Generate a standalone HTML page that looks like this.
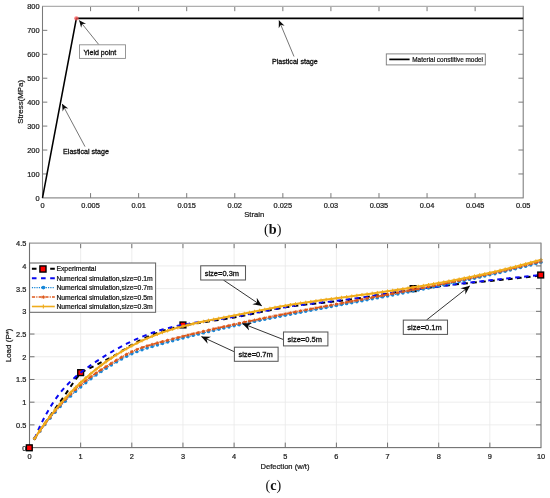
<!DOCTYPE html>
<html><head><meta charset="utf-8"><title>Figure</title>
<style>
html,body{margin:0;padding:0;background:#fff;}
svg{display:block;}
text{font-family:"Liberation Sans",Arial,sans-serif;fill:#1a1a1a;}
.tk text{stroke:#1a1a1a;stroke-width:0.22px;}
.an text{stroke:#111;stroke-width:0.3px;fill:#111;}
.cap{font-family:"Liberation Serif","DejaVu Serif",serif;fill:#111;}
</style></head><body>
<svg width="550" height="498" viewBox="0 0 550 498">
<defs>
<marker id="ah" viewBox="0 0 10 10" refX="9.6" refY="5" markerWidth="9.5" markerHeight="9" orient="auto" markerUnits="userSpaceOnUse">
<path d="M0,0.6 L10,5 L0,9.4 L3.4,5 Z" fill="#0a0a0a"/></marker>
<marker id="ah2" viewBox="0 0 10 10" refX="9.6" refY="5" markerWidth="7.6" markerHeight="7.2" orient="auto" markerUnits="userSpaceOnUse">
<path d="M0,0.6 L10,5 L0,9.4 L3.4,5 Z" fill="#0a0a0a"/></marker>
</defs>
<rect width="550" height="498" fill="#fff"/>

<g id="top">
<rect x="42.5" y="6.4" width="480.70000000000005" height="191.5" fill="none" stroke="#7a7a7a" stroke-width="1.05"/>
<path d="M90.57,197.9v-4.8M90.57,6.4v4.8M138.64,197.9v-4.8M138.64,6.4v4.8M186.71,197.9v-4.8M186.71,6.4v4.8M234.78,197.9v-4.8M234.78,6.4v4.8M282.85,197.9v-4.8M282.85,6.4v4.8M330.92,197.9v-4.8M330.92,6.4v4.8M378.99,197.9v-4.8M378.99,6.4v4.8M427.06,197.9v-4.8M427.06,6.4v4.8M475.13,197.9v-4.8M475.13,6.4v4.8M42.5,173.96h4.8M523.2,173.96h-4.8M42.5,150.03h4.8M523.2,150.03h-4.8M42.5,126.09h4.8M523.2,126.09h-4.8M42.5,102.15h4.8M523.2,102.15h-4.8M42.5,78.21h4.8M523.2,78.21h-4.8M42.5,54.28h4.8M523.2,54.28h-4.8M42.5,30.34h4.8M523.2,30.34h-4.8" stroke="#7a7a7a" stroke-width="1" fill="none"/>
<line x1="43.1" y1="6.4" x2="522.6" y2="6.4" stroke="#fff" stroke-width="1.4"/><line x1="42.5" y1="6.4" x2="523.2" y2="6.4" stroke="#a6a6a6" stroke-width="1"/>
<g class="tk">
<text x="42.50" y="208.30" font-size="7.4" text-anchor="middle">0</text>
<text x="90.57" y="208.30" font-size="7.4" text-anchor="middle">0.005</text>
<text x="138.64" y="208.30" font-size="7.4" text-anchor="middle">0.01</text>
<text x="186.71" y="208.30" font-size="7.4" text-anchor="middle">0.015</text>
<text x="234.78" y="208.30" font-size="7.4" text-anchor="middle">0.02</text>
<text x="282.85" y="208.30" font-size="7.4" text-anchor="middle">0.025</text>
<text x="330.92" y="208.30" font-size="7.4" text-anchor="middle">0.03</text>
<text x="378.99" y="208.30" font-size="7.4" text-anchor="middle">0.035</text>
<text x="427.06" y="208.30" font-size="7.4" text-anchor="middle">0.04</text>
<text x="475.13" y="208.30" font-size="7.4" text-anchor="middle">0.045</text>
<text x="523.20" y="208.30" font-size="7.4" text-anchor="middle">0.05</text>
<text x="39.50" y="200.80" font-size="7.4" text-anchor="end">0</text>
<text x="39.50" y="176.86" font-size="7.4" text-anchor="end">100</text>
<text x="39.50" y="152.93" font-size="7.4" text-anchor="end">200</text>
<text x="39.50" y="128.99" font-size="7.4" text-anchor="end">300</text>
<text x="39.50" y="105.05" font-size="7.4" text-anchor="end">400</text>
<text x="39.50" y="81.11" font-size="7.4" text-anchor="end">500</text>
<text x="39.50" y="57.18" font-size="7.4" text-anchor="end">600</text>
<text x="39.50" y="33.24" font-size="7.4" text-anchor="end">700</text>
<text x="39.50" y="9.30" font-size="7.4" text-anchor="end">800</text>
<text x="254.2" y="217.2" font-size="7.7" text-anchor="middle">Strain</text>
<text transform="translate(22.6,101.8) rotate(-90)" font-size="7.9" text-anchor="middle">Stress(MPa)</text>
</g>
<path d="M42.5,197.9 L76.4,18.37 L523.2,18.37" fill="none" stroke="#000" stroke-width="1.55" stroke-linejoin="miter"/>
<circle cx="76.4" cy="18.37" r="2.2" fill="#ff5a5a" opacity="0.75"/>
<g class="an">
<line x1="98.8" y1="44.6" x2="79.3" y2="20.4" stroke="#2a2a2a" stroke-width="0.65" marker-end="url(#ah2)"/>
<rect x="79.5" y="44.8" width="46" height="13.6" fill="#fff" stroke="#8c8c8c" stroke-width="0.9"/>
<text x="83.4" y="54.6" font-size="7.1">Yield point</text>
<line x1="85" y1="146.6" x2="62.2" y2="104" stroke="#2a2a2a" stroke-width="0.65" marker-end="url(#ah2)"/>
<text x="63.1" y="154.4" font-size="7.1">Elastical stage</text>
<line x1="294" y1="56.5" x2="279" y2="20.6" stroke="#2a2a2a" stroke-width="0.65" marker-end="url(#ah2)"/>
<text x="272" y="64.3" font-size="7.1">Plastical stage</text>
<rect x="386.3" y="53.9" width="99" height="11" fill="#fff" stroke="#7a7a7a" stroke-width="0.9"/>
<line x1="389.3" y1="59.4" x2="409.6" y2="59.4" stroke="#000" stroke-width="1.7"/>
<text x="412.2" y="61.9" font-size="6.45" style="stroke-width:0.2px">Material constitive model</text>
</g>
</g>
<text class="cap" x="264.0" y="234.2" font-size="14.2">(<tspan font-weight="bold">b</tspan>)</text>
<g id="bot">
<path d="M80.65,243.2V447.6M131.80,243.2V447.6M182.95,243.2V447.6M234.10,243.2V447.6M285.25,243.2V447.6M336.40,243.2V447.6M387.55,243.2V447.6M438.70,243.2V447.6M489.85,243.2V447.6M29.5,424.89H541.0M29.5,402.18H541.0M29.5,379.47H541.0M29.5,356.76H541.0M29.5,334.04H541.0M29.5,311.33H541.0M29.5,288.62H541.0M29.5,265.91H541.0" stroke="#e8e8e8" stroke-width="0.8" fill="none"/>
<path d="M34.62,438.52 L39.73,430.67 L44.84,423.20 L49.96,415.99 L55.08,408.89 L60.19,401.77 L65.31,394.50 L70.42,386.94 L75.53,379.32 L80.65,373.20 L85.77,369.81 L90.88,367.62 L96.00,365.10 L101.11,362.44 L106.22,359.88 L111.34,357.23 L116.45,354.29 L121.57,351.15 L126.69,347.95 L131.80,344.84 L136.92,341.96 L142.03,339.31 L147.14,336.91 L152.26,334.72 L157.38,332.76 L162.49,331.00 L167.61,329.43 L172.72,328.04 L177.83,326.79 L182.95,325.68 L188.06,324.68 L193.18,323.77 L198.29,322.94 L203.41,322.16 L208.52,321.41 L213.64,320.68 L218.75,319.95 L223.87,319.19 L228.99,318.38 L234.10,317.52 L239.21,316.57 L244.33,315.56 L249.44,314.51 L254.56,313.42 L259.68,312.32 L264.79,311.23 L269.90,310.17 L275.02,309.14 L280.13,308.18 L285.25,307.29 L290.37,306.49 L295.48,305.77 L300.60,305.12 L305.71,304.53 L310.83,303.97 L315.94,303.44 L321.06,302.92 L326.17,302.40 L331.29,301.86 L336.40,301.29 L341.51,300.68 L346.63,300.01 L351.75,299.30 L356.86,298.54 L361.98,297.76 L367.09,296.95 L372.21,296.13 L377.32,295.30 L382.44,294.46 L387.55,293.64 L392.66,292.83 L397.78,292.04 L402.89,291.27 L408.01,290.51 L413.12,289.78 L418.24,289.06 L423.36,288.36 L428.47,287.69 L433.59,287.03 L438.70,286.40 L443.81,285.80 L448.93,285.21 L454.05,284.64 L459.16,284.09 L464.27,283.55 L469.39,283.02 L474.50,282.50 L479.62,281.99 L484.74,281.48 L489.85,280.97 L494.96,280.46 L500.08,279.95 L505.20,279.43 L510.31,278.90 L515.42,278.37 L520.54,277.82 L525.65,277.25 L530.77,276.67 L535.88,276.07 L541.00,275.44" fill="none" stroke="#000" stroke-width="2" stroke-dasharray="4.6 4.4"/>
<rect x="77.75" y="369.75" width="5.8" height="5.8" fill="#f00" stroke="#000" stroke-width="1.4"/>
<rect x="180.05" y="322.06" width="5.8" height="5.8" fill="#f00" stroke="#000" stroke-width="1.4"/>
<rect x="410.23" y="285.72" width="5.8" height="5.8" fill="#f00" stroke="#000" stroke-width="1.4"/>
<path d="M34.62,438.52 L39.73,426.68 L44.84,416.46 L49.96,407.49 L55.08,399.63 L60.19,392.75 L65.31,386.74 L70.42,381.46 L75.53,376.79 L80.65,372.60 L85.77,368.77 L90.88,365.16 L96.00,361.70 L101.11,358.36 L106.22,355.16 L111.34,352.09 L116.45,349.16 L121.57,346.37 L126.69,343.73 L131.80,341.23 L136.92,338.89 L142.03,336.71 L147.14,334.68 L152.26,332.81 L157.38,331.11 L162.49,329.57 L167.61,328.19 L172.72,326.94 L177.83,325.81 L182.95,324.79 L188.06,323.86 L193.18,323.00 L198.29,322.20 L203.41,321.44 L208.52,320.70 L213.64,319.98 L218.75,319.25 L223.87,318.50 L228.99,317.71 L234.10,316.87 L239.21,315.97 L244.33,315.01 L249.44,314.02 L254.56,312.99 L259.68,311.96 L264.79,310.93 L269.90,309.92 L275.02,308.95 L280.13,308.02 L285.25,307.15 L290.37,306.36 L295.48,305.63 L300.60,304.96 L305.71,304.34 L310.83,303.74 L315.94,303.17 L321.06,302.61 L326.17,302.05 L331.29,301.48 L336.40,300.89 L341.51,300.27 L346.63,299.61 L351.75,298.91 L356.86,298.19 L361.98,297.44 L367.09,296.67 L372.21,295.89 L377.32,295.11 L382.44,294.32 L387.55,293.55 L392.66,292.78 L397.78,292.03 L402.89,291.29 L408.01,290.56 L413.12,289.84 L418.24,289.13 L423.36,288.44 L428.47,287.75 L433.59,287.08 L438.70,286.42 L443.81,285.76 L448.93,285.12 L454.05,284.49 L459.16,283.86 L464.27,283.25 L469.39,282.64 L474.50,282.05 L479.62,281.46 L484.74,280.88 L489.85,280.31 L494.96,279.75 L500.08,279.20 L505.20,278.65 L510.31,278.11 L515.42,277.58 L520.54,277.06 L525.65,276.54 L530.77,276.03 L535.88,275.53 L541.00,275.03" fill="none" stroke="#0808f0" stroke-width="2" stroke-dasharray="4.6 4.4"/>
<path d="M34.62,438.52 L39.73,431.36 L44.84,424.59 L49.96,418.21 L55.08,412.19 L60.19,406.52 L65.31,401.18 L70.42,396.16 L75.53,391.42 L80.65,386.96 L85.77,382.77 L90.88,378.81 L96.00,375.08 L101.11,371.54 L106.22,368.18 L111.34,364.98 L116.45,361.90 L121.57,358.98 L126.69,356.27 L131.80,353.82 L136.92,351.67 L142.03,349.76 L147.14,348.05 L152.26,346.48 L157.38,344.99 L162.49,343.54 L167.61,342.12 L172.72,340.73 L177.83,339.36 L182.95,338.01 L188.06,336.70 L193.18,335.40 L198.29,334.13 L203.41,332.88 L208.52,331.65 L213.64,330.44 L218.75,329.25 L223.87,328.08 L228.99,326.93 L234.10,325.80 L239.21,324.68 L244.33,323.58 L249.44,322.49 L254.56,321.42 L259.68,320.36 L264.79,319.32 L269.90,318.28 L275.02,317.26 L280.13,316.24 L285.25,315.24 L290.37,314.24 L295.48,313.26 L300.60,312.28 L305.71,311.30 L310.83,310.33 L315.94,309.37 L321.06,308.41 L326.17,307.45 L331.29,306.50 L336.40,305.54 L341.51,304.59 L346.63,303.64 L351.75,302.68 L356.86,301.73 L361.98,300.77 L367.09,299.81 L372.21,298.85 L377.32,297.89 L382.44,296.92 L387.55,295.95 L392.66,294.97 L397.78,293.99 L402.89,293.00 L408.01,292.01 L413.12,291.01 L418.24,290.00 L423.36,288.99 L428.47,287.96 L433.59,286.93 L438.70,285.89 L443.81,284.84 L448.93,283.78 L454.05,282.70 L459.16,281.62 L464.27,280.53 L469.39,279.42 L474.50,278.30 L479.62,277.16 L484.74,276.02 L489.85,274.85 L494.96,273.68 L500.08,272.48 L505.20,271.28 L510.31,270.05 L515.42,268.81 L520.54,267.55 L525.65,266.27 L530.77,264.98 L535.88,263.66 L541.00,262.33" fill="none" stroke="#1787d8" stroke-width="1.1" stroke-dasharray="1 1.2"/>
<g fill="#1787d8"><circle cx="34.62" cy="438.52" r="1.7"/><circle cx="39.73" cy="431.36" r="1.7"/><circle cx="44.84" cy="424.59" r="1.7"/><circle cx="49.96" cy="418.21" r="1.7"/><circle cx="55.08" cy="412.19" r="1.7"/><circle cx="60.19" cy="406.52" r="1.7"/><circle cx="65.31" cy="401.18" r="1.7"/><circle cx="70.42" cy="396.16" r="1.7"/><circle cx="75.53" cy="391.42" r="1.7"/><circle cx="80.65" cy="386.96" r="1.7"/><circle cx="85.77" cy="382.77" r="1.7"/><circle cx="90.88" cy="378.81" r="1.7"/><circle cx="96.00" cy="375.08" r="1.7"/><circle cx="101.11" cy="371.54" r="1.7"/><circle cx="106.22" cy="368.18" r="1.7"/><circle cx="111.34" cy="364.98" r="1.7"/><circle cx="116.45" cy="361.90" r="1.7"/><circle cx="121.57" cy="358.98" r="1.7"/><circle cx="126.69" cy="356.27" r="1.7"/><circle cx="131.80" cy="353.82" r="1.7"/><circle cx="136.92" cy="351.67" r="1.7"/><circle cx="142.03" cy="349.76" r="1.7"/><circle cx="147.14" cy="348.05" r="1.7"/><circle cx="152.26" cy="346.48" r="1.7"/><circle cx="157.38" cy="344.99" r="1.7"/><circle cx="162.49" cy="343.54" r="1.7"/><circle cx="167.61" cy="342.12" r="1.7"/><circle cx="172.72" cy="340.73" r="1.7"/><circle cx="177.83" cy="339.36" r="1.7"/><circle cx="182.95" cy="338.01" r="1.7"/><circle cx="188.06" cy="336.70" r="1.7"/><circle cx="193.18" cy="335.40" r="1.7"/><circle cx="198.29" cy="334.13" r="1.7"/><circle cx="203.41" cy="332.88" r="1.7"/><circle cx="208.52" cy="331.65" r="1.7"/><circle cx="213.64" cy="330.44" r="1.7"/><circle cx="218.75" cy="329.25" r="1.7"/><circle cx="223.87" cy="328.08" r="1.7"/><circle cx="228.99" cy="326.93" r="1.7"/><circle cx="234.10" cy="325.80" r="1.7"/><circle cx="239.21" cy="324.68" r="1.7"/><circle cx="244.33" cy="323.58" r="1.7"/><circle cx="249.44" cy="322.49" r="1.7"/><circle cx="254.56" cy="321.42" r="1.7"/><circle cx="259.68" cy="320.36" r="1.7"/><circle cx="264.79" cy="319.32" r="1.7"/><circle cx="269.90" cy="318.28" r="1.7"/><circle cx="275.02" cy="317.26" r="1.7"/><circle cx="280.13" cy="316.24" r="1.7"/><circle cx="285.25" cy="315.24" r="1.7"/><circle cx="290.37" cy="314.24" r="1.7"/><circle cx="295.48" cy="313.26" r="1.7"/><circle cx="300.60" cy="312.28" r="1.7"/><circle cx="305.71" cy="311.30" r="1.7"/><circle cx="310.83" cy="310.33" r="1.7"/><circle cx="315.94" cy="309.37" r="1.7"/><circle cx="321.06" cy="308.41" r="1.7"/><circle cx="326.17" cy="307.45" r="1.7"/><circle cx="331.29" cy="306.50" r="1.7"/><circle cx="336.40" cy="305.54" r="1.7"/><circle cx="341.51" cy="304.59" r="1.7"/><circle cx="346.63" cy="303.64" r="1.7"/><circle cx="351.75" cy="302.68" r="1.7"/><circle cx="356.86" cy="301.73" r="1.7"/><circle cx="361.98" cy="300.77" r="1.7"/><circle cx="367.09" cy="299.81" r="1.7"/><circle cx="372.21" cy="298.85" r="1.7"/><circle cx="377.32" cy="297.89" r="1.7"/><circle cx="382.44" cy="296.92" r="1.7"/><circle cx="387.55" cy="295.95" r="1.7"/><circle cx="392.66" cy="294.97" r="1.7"/><circle cx="397.78" cy="293.99" r="1.7"/><circle cx="402.89" cy="293.00" r="1.7"/><circle cx="408.01" cy="292.01" r="1.7"/><circle cx="413.12" cy="291.01" r="1.7"/><circle cx="418.24" cy="290.00" r="1.7"/><circle cx="423.36" cy="288.99" r="1.7"/><circle cx="428.47" cy="287.96" r="1.7"/><circle cx="433.59" cy="286.93" r="1.7"/><circle cx="438.70" cy="285.89" r="1.7"/><circle cx="443.81" cy="284.84" r="1.7"/><circle cx="448.93" cy="283.78" r="1.7"/><circle cx="454.05" cy="282.70" r="1.7"/><circle cx="459.16" cy="281.62" r="1.7"/><circle cx="464.27" cy="280.53" r="1.7"/><circle cx="469.39" cy="279.42" r="1.7"/><circle cx="474.50" cy="278.30" r="1.7"/><circle cx="479.62" cy="277.16" r="1.7"/><circle cx="484.74" cy="276.02" r="1.7"/><circle cx="489.85" cy="274.85" r="1.7"/><circle cx="494.96" cy="273.68" r="1.7"/><circle cx="500.08" cy="272.48" r="1.7"/><circle cx="505.20" cy="271.28" r="1.7"/><circle cx="510.31" cy="270.05" r="1.7"/><circle cx="515.42" cy="268.81" r="1.7"/><circle cx="520.54" cy="267.55" r="1.7"/><circle cx="525.65" cy="266.27" r="1.7"/><circle cx="530.77" cy="264.98" r="1.7"/><circle cx="535.88" cy="263.66" r="1.7"/><circle cx="541.00" cy="262.33" r="1.7"/></g>
<path d="M34.62,438.52 L39.73,431.08 L44.84,424.03 L49.96,417.35 L55.08,411.04 L60.19,405.10 L65.31,399.51 L70.42,394.27 L75.53,389.38 L80.65,384.82 L85.77,380.60 L90.88,376.70 L96.00,373.10 L101.11,369.72 L106.22,366.50 L111.34,363.35 L116.45,360.22 L121.57,357.17 L126.69,354.30 L131.80,351.71 L136.92,349.49 L142.03,347.58 L147.14,345.90 L152.26,344.40 L157.38,342.99 L162.49,341.62 L167.61,340.27 L172.72,338.94 L177.83,337.63 L182.95,336.34 L188.06,335.07 L193.18,333.82 L198.29,332.59 L203.41,331.37 L208.52,330.18 L213.64,329.00 L218.75,327.83 L223.87,326.68 L228.99,325.55 L234.10,324.43 L239.21,323.32 L244.33,322.23 L249.44,321.15 L254.56,320.08 L259.68,319.02 L264.79,317.98 L269.90,316.94 L275.02,315.91 L280.13,314.90 L285.25,313.89 L290.37,312.89 L295.48,311.90 L300.60,310.91 L305.71,309.93 L310.83,308.96 L315.94,307.99 L321.06,307.02 L326.17,306.06 L331.29,305.10 L336.40,304.15 L341.51,303.20 L346.63,302.25 L351.75,301.30 L356.86,300.35 L361.98,299.40 L367.09,298.45 L372.21,297.49 L377.32,296.54 L382.44,295.58 L387.55,294.62 L392.66,293.66 L397.78,292.69 L402.89,291.72 L408.01,290.74 L413.12,289.75 L418.24,288.76 L423.36,287.76 L428.47,286.75 L433.59,285.73 L438.70,284.70 L443.81,283.66 L448.93,282.61 L454.05,281.55 L459.16,280.48 L464.27,279.40 L469.39,278.30 L474.50,277.19 L479.62,276.06 L484.74,274.92 L489.85,273.76 L494.96,272.59 L500.08,271.40 L505.20,270.19 L510.31,268.96 L515.42,267.72 L520.54,266.45 L525.65,265.17 L530.77,263.86 L535.88,262.53 L541.00,261.18" fill="none" stroke="#dd571a" stroke-width="1.8" stroke-dasharray="3.4 0.9 1 0.9"/>
<path d="M33.02,438.52h3.20M34.62,436.92v3.20M33.48,437.38l2.26,2.26M33.48,439.65l2.26,-2.26M38.13,431.08h3.20M39.73,429.48v3.20M38.60,429.95l2.26,2.26M38.60,432.21l2.26,-2.26M43.24,424.03h3.20M44.84,422.43v3.20M43.71,422.89l2.26,2.26M43.71,425.16l2.26,-2.26M48.36,417.35h3.20M49.96,415.75v3.20M48.83,416.22l2.26,2.26M48.83,418.48l2.26,-2.26M53.48,411.04h3.20M55.08,409.44v3.20M53.94,409.91l2.26,2.26M53.94,412.17l2.26,-2.26M58.59,405.10h3.20M60.19,403.50v3.20M59.06,403.96l2.26,2.26M59.06,406.23l2.26,-2.26M63.71,399.51h3.20M65.31,397.91v3.20M64.17,398.38l2.26,2.26M64.17,400.64l2.26,-2.26M68.82,394.27h3.20M70.42,392.67v3.20M69.29,393.14l2.26,2.26M69.29,395.40l2.26,-2.26M73.94,389.38h3.20M75.53,387.78v3.20M74.40,388.25l2.26,2.26M74.40,390.51l2.26,-2.26M79.05,384.82h3.20M80.65,383.22v3.20M79.52,383.69l2.26,2.26M79.52,385.95l2.26,-2.26M84.17,380.60h3.20M85.77,379.00v3.20M84.63,379.47l2.26,2.26M84.63,381.73l2.26,-2.26M89.28,376.70h3.20M90.88,375.10v3.20M89.75,375.57l2.26,2.26M89.75,377.83l2.26,-2.26M94.40,373.10h3.20M96.00,371.50v3.20M94.86,371.97l2.26,2.26M94.86,374.23l2.26,-2.26M99.51,369.72h3.20M101.11,368.12v3.20M99.98,368.59l2.26,2.26M99.98,370.85l2.26,-2.26M104.62,366.50h3.20M106.22,364.90v3.20M105.09,365.37l2.26,2.26M105.09,367.63l2.26,-2.26M109.74,363.35h3.20M111.34,361.75v3.20M110.21,362.22l2.26,2.26M110.21,364.48l2.26,-2.26M114.86,360.22h3.20M116.45,358.62v3.20M115.32,359.09l2.26,2.26M115.32,361.35l2.26,-2.26M119.97,357.17h3.20M121.57,355.57v3.20M120.44,356.03l2.26,2.26M120.44,358.30l2.26,-2.26M125.09,354.30h3.20M126.69,352.70v3.20M125.55,353.17l2.26,2.26M125.55,355.43l2.26,-2.26M130.20,351.71h3.20M131.80,350.11v3.20M130.67,350.58l2.26,2.26M130.67,352.84l2.26,-2.26M135.32,349.49h3.20M136.92,347.89v3.20M135.78,348.36l2.26,2.26M135.78,350.62l2.26,-2.26M140.43,347.58h3.20M142.03,345.98v3.20M140.90,346.44l2.26,2.26M140.90,348.71l2.26,-2.26M145.54,345.90h3.20M147.14,344.30v3.20M146.01,344.77l2.26,2.26M146.01,347.04l2.26,-2.26M150.66,344.40h3.20M152.26,342.80v3.20M151.13,343.27l2.26,2.26M151.13,345.53l2.26,-2.26M155.78,342.99h3.20M157.38,341.39v3.20M156.24,341.86l2.26,2.26M156.24,344.13l2.26,-2.26M160.89,341.62h3.20M162.49,340.02v3.20M161.36,340.49l2.26,2.26M161.36,342.75l2.26,-2.26M166.01,340.27h3.20M167.61,338.67v3.20M166.47,339.14l2.26,2.26M166.47,341.40l2.26,-2.26M171.12,338.94h3.20M172.72,337.34v3.20M171.59,337.81l2.26,2.26M171.59,340.07l2.26,-2.26M176.23,337.63h3.20M177.83,336.03v3.20M176.70,336.50l2.26,2.26M176.70,338.76l2.26,-2.26M181.35,336.34h3.20M182.95,334.74v3.20M181.82,335.21l2.26,2.26M181.82,337.47l2.26,-2.26M186.47,335.07h3.20M188.06,333.47v3.20M186.93,333.94l2.26,2.26M186.93,336.20l2.26,-2.26M191.58,333.82h3.20M193.18,332.22v3.20M192.05,332.69l2.26,2.26M192.05,334.95l2.26,-2.26M196.69,332.59h3.20M198.29,330.99v3.20M197.16,331.46l2.26,2.26M197.16,333.72l2.26,-2.26M201.81,331.37h3.20M203.41,329.77v3.20M202.28,330.24l2.26,2.26M202.28,332.50l2.26,-2.26M206.92,330.18h3.20M208.52,328.58v3.20M207.39,329.04l2.26,2.26M207.39,331.31l2.26,-2.26M212.04,329.00h3.20M213.64,327.40v3.20M212.51,327.86l2.26,2.26M212.51,330.13l2.26,-2.26M217.16,327.83h3.20M218.75,326.23v3.20M217.62,326.70l2.26,2.26M217.62,328.96l2.26,-2.26M222.27,326.68h3.20M223.87,325.08v3.20M222.74,325.55l2.26,2.26M222.74,327.81l2.26,-2.26M227.39,325.55h3.20M228.99,323.95v3.20M227.85,324.42l2.26,2.26M227.85,326.68l2.26,-2.26M232.50,324.43h3.20M234.10,322.83v3.20M232.97,323.30l2.26,2.26M232.97,325.56l2.26,-2.26M237.61,323.32h3.20M239.21,321.72v3.20M238.08,322.19l2.26,2.26M238.08,324.45l2.26,-2.26M242.73,322.23h3.20M244.33,320.63v3.20M243.20,321.10l2.26,2.26M243.20,323.36l2.26,-2.26M247.84,321.15h3.20M249.44,319.55v3.20M248.31,320.02l2.26,2.26M248.31,322.28l2.26,-2.26M252.96,320.08h3.20M254.56,318.48v3.20M253.43,318.95l2.26,2.26M253.43,321.21l2.26,-2.26M258.07,319.02h3.20M259.68,317.42v3.20M258.54,317.89l2.26,2.26M258.54,320.15l2.26,-2.26M263.19,317.98h3.20M264.79,316.38v3.20M263.66,316.85l2.26,2.26M263.66,319.11l2.26,-2.26M268.30,316.94h3.20M269.90,315.34v3.20M268.77,315.81l2.26,2.26M268.77,318.07l2.26,-2.26M273.42,315.91h3.20M275.02,314.31v3.20M273.89,314.78l2.26,2.26M273.89,317.05l2.26,-2.26M278.53,314.90h3.20M280.13,313.30v3.20M279.00,313.77l2.26,2.26M279.00,316.03l2.26,-2.26M283.65,313.89h3.20M285.25,312.29v3.20M284.12,312.76l2.26,2.26M284.12,315.02l2.26,-2.26M288.76,312.89h3.20M290.37,311.29v3.20M289.23,311.76l2.26,2.26M289.23,314.02l2.26,-2.26M293.88,311.90h3.20M295.48,310.30v3.20M294.35,310.76l2.26,2.26M294.35,313.03l2.26,-2.26M299.00,310.91h3.20M300.60,309.31v3.20M299.46,309.78l2.26,2.26M299.46,312.04l2.26,-2.26M304.11,309.93h3.20M305.71,308.33v3.20M304.58,308.80l2.26,2.26M304.58,311.06l2.26,-2.26M309.23,308.96h3.20M310.83,307.36v3.20M309.69,307.82l2.26,2.26M309.69,310.09l2.26,-2.26M314.34,307.99h3.20M315.94,306.39v3.20M314.81,306.86l2.26,2.26M314.81,309.12l2.26,-2.26M319.45,307.02h3.20M321.06,305.42v3.20M319.92,305.89l2.26,2.26M319.92,308.15l2.26,-2.26M324.57,306.06h3.20M326.17,304.46v3.20M325.04,304.93l2.26,2.26M325.04,307.19l2.26,-2.26M329.69,305.10h3.20M331.29,303.50v3.20M330.15,303.97l2.26,2.26M330.15,306.24l2.26,-2.26M334.80,304.15h3.20M336.40,302.55v3.20M335.27,303.02l2.26,2.26M335.27,305.28l2.26,-2.26M339.91,303.20h3.20M341.51,301.60v3.20M340.38,302.07l2.26,2.26M340.38,304.33l2.26,-2.26M345.03,302.25h3.20M346.63,300.65v3.20M345.50,301.11l2.26,2.26M345.50,303.38l2.26,-2.26M350.14,301.30h3.20M351.75,299.70v3.20M350.61,300.16l2.26,2.26M350.61,302.43l2.26,-2.26M355.26,300.35h3.20M356.86,298.75v3.20M355.73,299.22l2.26,2.26M355.73,301.48l2.26,-2.26M360.38,299.40h3.20M361.98,297.80v3.20M360.84,298.27l2.26,2.26M360.84,300.53l2.26,-2.26M365.49,298.45h3.20M367.09,296.85v3.20M365.96,297.32l2.26,2.26M365.96,299.58l2.26,-2.26M370.61,297.49h3.20M372.21,295.89v3.20M371.07,296.36l2.26,2.26M371.07,298.63l2.26,-2.26M375.72,296.54h3.20M377.32,294.94v3.20M376.19,295.41l2.26,2.26M376.19,297.67l2.26,-2.26M380.83,295.58h3.20M382.44,293.98v3.20M381.30,294.45l2.26,2.26M381.30,296.71l2.26,-2.26M385.95,294.62h3.20M387.55,293.02v3.20M386.42,293.49l2.26,2.26M386.42,295.75l2.26,-2.26M391.06,293.66h3.20M392.66,292.06v3.20M391.53,292.53l2.26,2.26M391.53,294.79l2.26,-2.26M396.18,292.69h3.20M397.78,291.09v3.20M396.65,291.56l2.26,2.26M396.65,293.82l2.26,-2.26M401.29,291.72h3.20M402.89,290.12v3.20M401.76,290.59l2.26,2.26M401.76,292.85l2.26,-2.26M406.41,290.74h3.20M408.01,289.14v3.20M406.88,289.61l2.26,2.26M406.88,291.87l2.26,-2.26M411.52,289.75h3.20M413.12,288.15v3.20M411.99,288.62l2.26,2.26M411.99,290.88l2.26,-2.26M416.64,288.76h3.20M418.24,287.16v3.20M417.11,287.63l2.26,2.26M417.11,289.89l2.26,-2.26M421.75,287.76h3.20M423.36,286.16v3.20M422.22,286.62l2.26,2.26M422.22,288.89l2.26,-2.26M426.87,286.75h3.20M428.47,285.15v3.20M427.34,285.62l2.26,2.26M427.34,287.88l2.26,-2.26M431.99,285.73h3.20M433.59,284.13v3.20M432.45,284.60l2.26,2.26M432.45,286.86l2.26,-2.26M437.10,284.70h3.20M438.70,283.10v3.20M437.57,283.57l2.26,2.26M437.57,285.83l2.26,-2.26M442.21,283.66h3.20M443.81,282.06v3.20M442.68,282.53l2.26,2.26M442.68,284.79l2.26,-2.26M447.33,282.61h3.20M448.93,281.01v3.20M447.80,281.48l2.26,2.26M447.80,283.75l2.26,-2.26M452.44,281.55h3.20M454.05,279.95v3.20M452.91,280.42l2.26,2.26M452.91,282.69l2.26,-2.26M457.56,280.48h3.20M459.16,278.88v3.20M458.03,279.35l2.26,2.26M458.03,281.61l2.26,-2.26M462.67,279.40h3.20M464.27,277.80v3.20M463.14,278.27l2.26,2.26M463.14,280.53l2.26,-2.26M467.79,278.30h3.20M469.39,276.70v3.20M468.26,277.17l2.26,2.26M468.26,279.43l2.26,-2.26M472.90,277.19h3.20M474.50,275.59v3.20M473.37,276.06l2.26,2.26M473.37,278.32l2.26,-2.26M478.02,276.06h3.20M479.62,274.46v3.20M478.49,274.93l2.26,2.26M478.49,277.19l2.26,-2.26M483.13,274.92h3.20M484.74,273.32v3.20M483.60,273.79l2.26,2.26M483.60,276.05l2.26,-2.26M488.25,273.76h3.20M489.85,272.16v3.20M488.72,272.63l2.26,2.26M488.72,274.89l2.26,-2.26M493.36,272.59h3.20M494.96,270.99v3.20M493.83,271.46l2.26,2.26M493.83,273.72l2.26,-2.26M498.48,271.40h3.20M500.08,269.80v3.20M498.95,270.26l2.26,2.26M498.95,272.53l2.26,-2.26M503.60,270.19h3.20M505.20,268.59v3.20M504.06,269.06l2.26,2.26M504.06,271.32l2.26,-2.26M508.71,268.96h3.20M510.31,267.36v3.20M509.18,267.83l2.26,2.26M509.18,270.09l2.26,-2.26M513.82,267.72h3.20M515.42,266.12v3.20M514.29,266.58l2.26,2.26M514.29,268.85l2.26,-2.26M518.94,266.45h3.20M520.54,264.85v3.20M519.41,265.32l2.26,2.26M519.41,267.58l2.26,-2.26M524.05,265.17h3.20M525.65,263.57v3.20M524.52,264.03l2.26,2.26M524.52,266.30l2.26,-2.26M529.17,263.86h3.20M530.77,262.26v3.20M529.64,262.73l2.26,2.26M529.64,264.99l2.26,-2.26M534.28,262.53h3.20M535.88,260.93v3.20M534.75,261.40l2.26,2.26M534.75,263.66l2.26,-2.26M539.40,261.18h3.20M541.00,259.58v3.20M539.87,260.05l2.26,2.26M539.87,262.31l2.26,-2.26" stroke="#dd571a" stroke-width="0.9" fill="none"/>
<path d="M34.62,438.52 L39.73,430.67 L44.84,423.38 L49.96,416.50 L55.08,410.01 L60.19,403.87 L65.31,398.08 L70.42,392.61 L75.53,387.44 L80.65,382.56 L85.77,377.92 L90.88,373.53 L96.00,369.35 L101.11,365.39 L106.22,361.64 L111.34,358.09 L116.45,354.73 L121.57,351.56 L126.69,348.58 L131.80,345.78 L136.92,343.15 L142.03,340.68 L147.14,338.39 L152.26,336.24 L157.38,334.25 L162.49,332.40 L167.61,330.69 L172.72,329.10 L177.83,327.62 L182.95,326.24 L188.06,324.95 L193.18,323.74 L198.29,322.60 L203.41,321.52 L208.52,320.48 L213.64,319.47 L218.75,318.49 L223.87,317.52 L228.99,316.55 L234.10,315.57 L239.21,314.58 L244.33,313.56 L249.44,312.54 L254.56,311.52 L259.68,310.50 L264.79,309.50 L269.90,308.51 L275.02,307.54 L280.13,306.60 L285.25,305.70 L290.37,304.83 L295.48,304.01 L300.60,303.22 L305.71,302.45 L310.83,301.72 L315.94,301.00 L321.06,300.30 L326.17,299.61 L331.29,298.94 L336.40,298.26 L341.51,297.59 L346.63,296.91 L351.75,296.23 L356.86,295.54 L361.98,294.84 L367.09,294.14 L372.21,293.43 L377.32,292.71 L382.44,291.98 L387.55,291.24 L392.66,290.48 L397.78,289.72 L402.89,288.94 L408.01,288.15 L413.12,287.34 L418.24,286.51 L423.36,285.67 L428.47,284.81 L433.59,283.94 L438.70,283.04 L443.81,282.12 L448.93,281.18 L454.05,280.22 L459.16,279.24 L464.27,278.23 L469.39,277.20 L474.50,276.14 L479.62,275.06 L484.74,273.95 L489.85,272.81 L494.96,271.64 L500.08,270.45 L505.20,269.22 L510.31,267.96 L515.42,266.67 L520.54,265.34 L525.65,263.98 L530.77,262.59 L535.88,261.16 L541.00,259.69" fill="none" stroke="#efac1c" stroke-width="2.0"/>
<path d="M32.82,438.52h3.60M34.62,436.72v3.60M37.93,430.67h3.60M39.73,428.87v3.60M43.05,423.38h3.60M44.84,421.58v3.60M48.16,416.50h3.60M49.96,414.70v3.60M53.28,410.01h3.60M55.08,408.21v3.60M58.39,403.87h3.60M60.19,402.07v3.60M63.51,398.08h3.60M65.31,396.28v3.60M68.62,392.61h3.60M70.42,390.81v3.60M73.73,387.44h3.60M75.53,385.64v3.60M78.85,382.56h3.60M80.65,380.76v3.60M83.97,377.92h3.60M85.77,376.12v3.60M89.08,373.53h3.60M90.88,371.73v3.60M94.20,369.35h3.60M96.00,367.55v3.60M99.31,365.39h3.60M101.11,363.59v3.60M104.42,361.64h3.60M106.22,359.84v3.60M109.54,358.09h3.60M111.34,356.29v3.60M114.66,354.73h3.60M116.45,352.93v3.60M119.77,351.56h3.60M121.57,349.76v3.60M124.89,348.58h3.60M126.69,346.78v3.60M130.00,345.78h3.60M131.80,343.98v3.60M135.12,343.15h3.60M136.92,341.35v3.60M140.23,340.68h3.60M142.03,338.88v3.60M145.34,338.39h3.60M147.14,336.59v3.60M150.46,336.24h3.60M152.26,334.44v3.60M155.57,334.25h3.60M157.38,332.45v3.60M160.69,332.40h3.60M162.49,330.60v3.60M165.81,330.69h3.60M167.61,328.89v3.60M170.92,329.10h3.60M172.72,327.30v3.60M176.03,327.62h3.60M177.83,325.82v3.60M181.15,326.24h3.60M182.95,324.44v3.60M186.26,324.95h3.60M188.06,323.15v3.60M191.38,323.74h3.60M193.18,321.94v3.60M196.49,322.60h3.60M198.29,320.80v3.60M201.61,321.52h3.60M203.41,319.72v3.60M206.72,320.48h3.60M208.52,318.68v3.60M211.84,319.47h3.60M213.64,317.67v3.60M216.95,318.49h3.60M218.75,316.69v3.60M222.07,317.52h3.60M223.87,315.72v3.60M227.19,316.55h3.60M228.99,314.75v3.60M232.30,315.57h3.60M234.10,313.77v3.60M237.41,314.58h3.60M239.21,312.78v3.60M242.53,313.56h3.60M244.33,311.76v3.60M247.64,312.54h3.60M249.44,310.74v3.60M252.76,311.52h3.60M254.56,309.72v3.60M257.88,310.50h3.60M259.68,308.70v3.60M262.99,309.50h3.60M264.79,307.70v3.60M268.10,308.51h3.60M269.90,306.71v3.60M273.22,307.54h3.60M275.02,305.74v3.60M278.33,306.60h3.60M280.13,304.80v3.60M283.45,305.70h3.60M285.25,303.90v3.60M288.56,304.83h3.60M290.37,303.03v3.60M293.68,304.01h3.60M295.48,302.21v3.60M298.80,303.22h3.60M300.60,301.42v3.60M303.91,302.45h3.60M305.71,300.65v3.60M309.03,301.72h3.60M310.83,299.92v3.60M314.14,301.00h3.60M315.94,299.20v3.60M319.25,300.30h3.60M321.06,298.50v3.60M324.37,299.61h3.60M326.17,297.81v3.60M329.49,298.94h3.60M331.29,297.14v3.60M334.60,298.26h3.60M336.40,296.46v3.60M339.71,297.59h3.60M341.51,295.79v3.60M344.83,296.91h3.60M346.63,295.11v3.60M349.94,296.23h3.60M351.75,294.43v3.60M355.06,295.54h3.60M356.86,293.74v3.60M360.18,294.84h3.60M361.98,293.04v3.60M365.29,294.14h3.60M367.09,292.34v3.60M370.41,293.43h3.60M372.21,291.63v3.60M375.52,292.71h3.60M377.32,290.91v3.60M380.63,291.98h3.60M382.44,290.18v3.60M385.75,291.24h3.60M387.55,289.44v3.60M390.86,290.48h3.60M392.66,288.68v3.60M395.98,289.72h3.60M397.78,287.92v3.60M401.09,288.94h3.60M402.89,287.14v3.60M406.21,288.15h3.60M408.01,286.35v3.60M411.32,287.34h3.60M413.12,285.54v3.60M416.44,286.51h3.60M418.24,284.71v3.60M421.56,285.67h3.60M423.36,283.87v3.60M426.67,284.81h3.60M428.47,283.01v3.60M431.79,283.94h3.60M433.59,282.14v3.60M436.90,283.04h3.60M438.70,281.24v3.60M442.01,282.12h3.60M443.81,280.32v3.60M447.13,281.18h3.60M448.93,279.38v3.60M452.25,280.22h3.60M454.05,278.42v3.60M457.36,279.24h3.60M459.16,277.44v3.60M462.47,278.23h3.60M464.27,276.43v3.60M467.59,277.20h3.60M469.39,275.40v3.60M472.70,276.14h3.60M474.50,274.34v3.60M477.82,275.06h3.60M479.62,273.26v3.60M482.94,273.95h3.60M484.74,272.15v3.60M488.05,272.81h3.60M489.85,271.01v3.60M493.16,271.64h3.60M494.96,269.84v3.60M498.28,270.45h3.60M500.08,268.65v3.60M503.40,269.22h3.60M505.20,267.42v3.60M508.51,267.96h3.60M510.31,266.16v3.60M513.62,266.67h3.60M515.42,264.87v3.60M518.74,265.34h3.60M520.54,263.54v3.60M523.86,263.98h3.60M525.65,262.18v3.60M528.97,262.59h3.60M530.77,260.79v3.60M534.09,261.16h3.60M535.88,259.36v3.60M539.20,259.69h3.60M541.00,257.89v3.60" stroke="#efac1c" stroke-width="1" fill="none"/>
<rect x="29.5" y="243.2" width="511.5" height="204.40000000000003" fill="none" stroke="#707070" stroke-width="1.1"/>
<path d="M80.65,447.6v-5M80.65,243.2v5M131.80,447.6v-5M131.80,243.2v5M182.95,447.6v-5M182.95,243.2v5M234.10,447.6v-5M234.10,243.2v5M285.25,447.6v-5M285.25,243.2v5M336.40,447.6v-5M336.40,243.2v5M387.55,447.6v-5M387.55,243.2v5M438.70,447.6v-5M438.70,243.2v5M489.85,447.6v-5M489.85,243.2v5M29.5,424.89h5M541.0,424.89h-5M29.5,402.18h5M541.0,402.18h-5M29.5,379.47h5M541.0,379.47h-5M29.5,356.76h5M541.0,356.76h-5M29.5,334.04h5M541.0,334.04h-5M29.5,311.33h5M541.0,311.33h-5M29.5,288.62h5M541.0,288.62h-5M29.5,265.91h5M541.0,265.91h-5" stroke="#707070" stroke-width="1" fill="none"/>
<g class="tk">
<text x="29.50" y="459.00" font-size="7.4" text-anchor="middle">0</text>
<text x="80.65" y="459.00" font-size="7.4" text-anchor="middle">1</text>
<text x="131.80" y="459.00" font-size="7.4" text-anchor="middle">2</text>
<text x="182.95" y="459.00" font-size="7.4" text-anchor="middle">3</text>
<text x="234.10" y="459.00" font-size="7.4" text-anchor="middle">4</text>
<text x="285.25" y="459.00" font-size="7.4" text-anchor="middle">5</text>
<text x="336.40" y="459.00" font-size="7.4" text-anchor="middle">6</text>
<text x="387.55" y="459.00" font-size="7.4" text-anchor="middle">7</text>
<text x="438.70" y="459.00" font-size="7.4" text-anchor="middle">8</text>
<text x="489.85" y="459.00" font-size="7.4" text-anchor="middle">9</text>
<text x="541.00" y="459.00" font-size="7.4" text-anchor="middle">10</text>
<text x="26.30" y="450.60" font-size="7.4" text-anchor="end">0</text>
<text x="26.30" y="427.89" font-size="7.4" text-anchor="end">0.5</text>
<text x="26.30" y="405.18" font-size="7.4" text-anchor="end">1</text>
<text x="26.30" y="382.47" font-size="7.4" text-anchor="end">1.5</text>
<text x="26.30" y="359.76" font-size="7.4" text-anchor="end">2</text>
<text x="26.30" y="337.04" font-size="7.4" text-anchor="end">2.5</text>
<text x="26.30" y="314.33" font-size="7.4" text-anchor="end">3</text>
<text x="26.30" y="291.62" font-size="7.4" text-anchor="end">3.5</text>
<text x="26.30" y="268.91" font-size="7.4" text-anchor="end">4</text>
<text x="26.30" y="246.20" font-size="7.4" text-anchor="end">4.5</text>
<text x="285" y="469" font-size="7.6" text-anchor="middle">Defection (w/t)</text>
<text transform="translate(11.3,345.4) rotate(-90)" font-size="8.0" text-anchor="middle">Load (P*)</text>
</g>
<line x1="30.1" y1="243.2" x2="540.4" y2="243.2" stroke="#fff" stroke-width="1.4"/><line x1="29.5" y1="243.2" x2="541.0" y2="243.2" stroke="#8e8e8e" stroke-width="1"/>
<rect x="26.40" y="444.90" width="5.8" height="5.8" fill="#f00" stroke="#000" stroke-width="1.4"/>
<rect x="537.80" y="272.10" width="5.8" height="5.8" fill="#f00" stroke="#000" stroke-width="1.4"/>
<rect x="29.6" y="263.0" width="126" height="49.3" fill="#fff" stroke="#666" stroke-width="1.05"/>
<line x1="31.9" y1="268.8" x2="54.8" y2="268.8" stroke="#000" stroke-width="2" stroke-dasharray="4.6 4.55"/>
<rect x="39.90" y="265.95" width="6.1" height="6.1" fill="#f00" stroke="#000" stroke-width="1.4"/>
<line x1="31.9" y1="278.2" x2="54.8" y2="278.2" stroke="#0808f0" stroke-width="2" stroke-dasharray="4.6 4.55"/>
<line x1="31.9" y1="287.6" x2="54.8" y2="287.6" stroke="#1787d8" stroke-width="1.4" stroke-dasharray="1.2 1.1"/>
<ellipse cx="43.349999999999994" cy="287.6" rx="2.1" ry="1.8" fill="#1787d8"/>
<line x1="31.9" y1="297.1" x2="54.8" y2="297.1" stroke="#dd571a" stroke-width="1.5" stroke-dasharray="3.2 1.2 1.1 1.2"/>
<path d="M41.65,297.10h3.40M43.35,295.40v3.40M42.15,295.90l2.40,2.40M42.15,298.30l2.40,-2.40" stroke="#dd571a" stroke-width="1"/>
<line x1="31.9" y1="306.5" x2="54.8" y2="306.5" stroke="#efac1c" stroke-width="1.6"/>
<path d="M41.45,306.50h3.80M43.35,304.60v3.80" stroke="#efac1c" stroke-width="1.1"/>
<g class="an">
<text x="56.4" y="271.30" font-size="6.82" style="stroke-width:0.22px">Experimental</text>
<text x="56.4" y="280.70" font-size="6.82" style="stroke-width:0.22px">Numerical simulation,size=0.1m</text>
<text x="56.4" y="290.10" font-size="6.82" style="stroke-width:0.22px">Numerical simulation,size=0.7m</text>
<text x="56.4" y="299.60" font-size="6.82" style="stroke-width:0.22px">Numerical simulation,size=0.5m</text>
<text x="56.4" y="309.00" font-size="6.82" style="stroke-width:0.22px">Numerical simulation,size=0.3m</text>
<line x1="223.4" y1="280" x2="261.7" y2="305.8" stroke="#2a2a2a" stroke-width="0.95" marker-end="url(#ah)"/>
<rect x="200.7" y="265.8" width="44.8" height="14.2" fill="#fff" stroke="#5a5a5a" stroke-width="1.05"/>
<text x="204.7" y="275.60" font-size="7.5">size=0.3m</text>
<line x1="283.5" y1="339.6" x2="242.6" y2="323.6" stroke="#2a2a2a" stroke-width="0.95" marker-end="url(#ah)"/>
<rect x="283.5" y="332.0" width="44.4" height="13.9" fill="#fff" stroke="#5a5a5a" stroke-width="1.05"/>
<text x="287.5" y="341.65" font-size="7.5">size=0.5m</text>
<line x1="234.4" y1="351.8" x2="201.5" y2="336.6" stroke="#2a2a2a" stroke-width="0.95" marker-end="url(#ah)"/>
<rect x="234.4" y="347.2" width="43.7" height="14.1" fill="#fff" stroke="#5a5a5a" stroke-width="1.05"/>
<text x="238.4" y="356.95" font-size="7.5">size=0.7m</text>
<line x1="426.5" y1="320" x2="469.7" y2="286.0" stroke="#2a2a2a" stroke-width="0.95" marker-end="url(#ah)"/>
<rect x="403.3" y="320.1" width="44.2" height="14.3" fill="#fff" stroke="#5a5a5a" stroke-width="1.05"/>
<text x="407.3" y="329.95" font-size="7.5">size=0.1m</text>
</g>
</g>
<text class="cap" x="265.4" y="490.4" font-size="14.2">(<tspan font-weight="bold">c</tspan>)</text>
</svg></body></html>
